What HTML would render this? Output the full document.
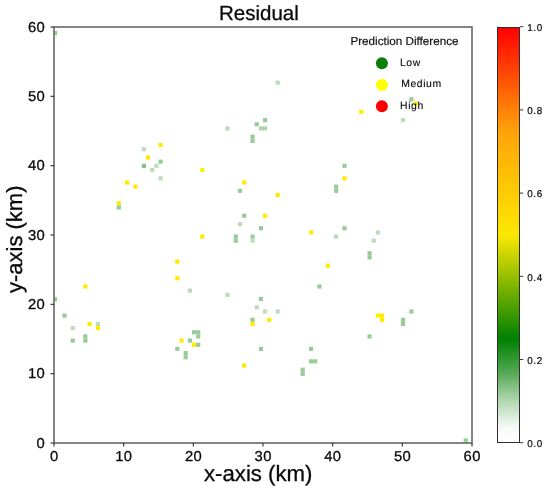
<!DOCTYPE html>
<html><head><meta charset="utf-8"><title>Residual</title>
<style>
html,body{margin:0;padding:0;background:#fff;}
body{width:550px;height:490px;overflow:hidden;}
svg{display:block;font-family:"Liberation Sans",Arial,sans-serif;}
text{fill:#0a0a0a;stroke:#0a0a0a;stroke-width:0.3px;text-rendering:geometricPrecision;}
</style></head><body>
<svg width="550" height="490" viewBox="0 0 550 490">
<defs>
<linearGradient id="cm" x1="0" y1="1" x2="0" y2="0">
<stop offset="0" stop-color="#ffffff"/>
<stop offset="0.035" stop-color="#f6fbf6"/>
<stop offset="0.1" stop-color="#b2d7b2"/>
<stop offset="0.17" stop-color="#52a752"/>
<stop offset="0.25" stop-color="#008000"/>
<stop offset="0.38" stop-color="#82b600"/>
<stop offset="0.5" stop-color="#fbe800"/>
<stop offset="0.75" stop-color="#ffa30a"/>
<stop offset="1" stop-color="#ff0000"/>
</linearGradient>
</defs>
<rect x="0" y="0" width="550" height="490" fill="#ffffff"/>
<g>
<rect x="275.54" y="80.58" width="4.18" height="4.16" fill="#bcdcbc"/>
<rect x="225.38" y="126.34" width="4.18" height="4.16" fill="#bcdcbc"/>
<rect x="263.00" y="118.02" width="4.18" height="4.16" fill="#98cb98"/>
<rect x="254.64" y="122.18" width="4.18" height="4.16" fill="#98cb98"/>
<rect x="258.82" y="126.34" width="4.18" height="4.16" fill="#aed5ae"/>
<rect x="263.00" y="126.34" width="4.18" height="4.16" fill="#aed5ae"/>
<rect x="250.46" y="134.66" width="4.18" height="4.16" fill="#98cb98"/>
<rect x="250.46" y="138.82" width="4.18" height="4.16" fill="#98cb98"/>
<rect x="359.14" y="109.70" width="4.18" height="4.16" fill="#ffea00"/>
<rect x="409.30" y="97.22" width="4.18" height="4.16" fill="#98cb98"/>
<rect x="413.48" y="101.38" width="4.18" height="4.16" fill="#ffea00"/>
<rect x="400.94" y="118.02" width="4.18" height="4.16" fill="#bcdcbc"/>
<rect x="158.50" y="142.98" width="4.18" height="4.16" fill="#ffea00"/>
<rect x="141.78" y="147.14" width="4.18" height="4.16" fill="#bcdcbc"/>
<rect x="145.96" y="155.46" width="4.18" height="4.16" fill="#ffea00"/>
<rect x="141.78" y="163.78" width="4.18" height="4.16" fill="#86c186"/>
<rect x="158.50" y="159.62" width="4.18" height="4.16" fill="#98cb98"/>
<rect x="154.32" y="163.78" width="4.18" height="4.16" fill="#bcdcbc"/>
<rect x="150.14" y="167.94" width="4.18" height="4.16" fill="#bcdcbc"/>
<rect x="158.50" y="176.26" width="4.18" height="4.16" fill="#bcdcbc"/>
<rect x="125.06" y="180.42" width="4.18" height="4.16" fill="#ffea00"/>
<rect x="133.42" y="184.58" width="4.18" height="4.16" fill="#ffea00"/>
<rect x="116.70" y="201.22" width="4.18" height="4.16" fill="#ffea00"/>
<rect x="116.70" y="205.38" width="4.18" height="4.16" fill="#98cb98"/>
<rect x="175.22" y="259.46" width="4.18" height="4.16" fill="#ffea00"/>
<rect x="200.30" y="167.94" width="4.18" height="4.16" fill="#ffea00"/>
<rect x="242.10" y="180.42" width="4.18" height="4.16" fill="#ffea00"/>
<rect x="237.92" y="188.74" width="4.18" height="4.16" fill="#98cb98"/>
<rect x="275.54" y="192.90" width="4.18" height="4.16" fill="#ffea00"/>
<rect x="242.10" y="213.70" width="4.18" height="4.16" fill="#98cb98"/>
<rect x="263.00" y="213.70" width="4.18" height="4.16" fill="#ffea00"/>
<rect x="237.92" y="222.02" width="4.18" height="4.16" fill="#bcdcbc"/>
<rect x="258.82" y="226.18" width="4.18" height="4.16" fill="#98cb98"/>
<rect x="200.30" y="234.50" width="4.18" height="4.16" fill="#ffea00"/>
<rect x="233.74" y="234.50" width="4.18" height="4.16" fill="#98cb98"/>
<rect x="233.74" y="238.66" width="4.18" height="4.16" fill="#98cb98"/>
<rect x="250.46" y="234.50" width="4.18" height="4.16" fill="#98cb98"/>
<rect x="250.46" y="238.66" width="4.18" height="4.16" fill="#bcdcbc"/>
<rect x="308.98" y="230.34" width="4.18" height="4.16" fill="#ffea00"/>
<rect x="325.70" y="263.62" width="4.18" height="4.16" fill="#ffea00"/>
<rect x="342.42" y="163.78" width="4.18" height="4.16" fill="#98cb98"/>
<rect x="342.42" y="176.26" width="4.18" height="4.16" fill="#ffea00"/>
<rect x="334.06" y="184.58" width="4.18" height="4.16" fill="#98cb98"/>
<rect x="334.06" y="188.74" width="4.18" height="4.16" fill="#98cb98"/>
<rect x="342.42" y="226.18" width="4.18" height="4.16" fill="#98cb98"/>
<rect x="334.06" y="234.50" width="4.18" height="4.16" fill="#bcdcbc"/>
<rect x="375.86" y="230.34" width="4.18" height="4.16" fill="#bcdcbc"/>
<rect x="371.68" y="238.66" width="4.18" height="4.16" fill="#bcdcbc"/>
<rect x="367.50" y="251.14" width="4.18" height="4.16" fill="#98cb98"/>
<rect x="367.50" y="255.30" width="4.18" height="4.16" fill="#98cb98"/>
<rect x="175.22" y="276.10" width="4.18" height="4.16" fill="#ffea00"/>
<rect x="83.26" y="284.42" width="4.18" height="4.16" fill="#ffea00"/>
<rect x="187.76" y="288.58" width="4.18" height="4.16" fill="#bcdcbc"/>
<rect x="62.36" y="313.54" width="4.18" height="4.16" fill="#98cb98"/>
<rect x="87.44" y="321.86" width="4.18" height="4.16" fill="#ffea00"/>
<rect x="95.80" y="321.86" width="4.18" height="4.16" fill="#bcdcbc"/>
<rect x="95.80" y="326.02" width="4.18" height="4.16" fill="#ffea00"/>
<rect x="70.72" y="326.02" width="4.18" height="4.16" fill="#bcdcbc"/>
<rect x="70.72" y="338.50" width="4.18" height="4.16" fill="#98cb98"/>
<rect x="83.26" y="334.34" width="4.18" height="4.16" fill="#98cb98"/>
<rect x="83.26" y="338.50" width="4.18" height="4.16" fill="#98cb98"/>
<rect x="179.40" y="338.50" width="4.18" height="4.16" fill="#ffea00"/>
<rect x="187.76" y="338.50" width="4.18" height="4.16" fill="#98cb98"/>
<rect x="175.22" y="346.82" width="4.18" height="4.16" fill="#98cb98"/>
<rect x="183.58" y="350.98" width="4.18" height="4.16" fill="#98cb98"/>
<rect x="183.58" y="355.14" width="4.18" height="4.16" fill="#98cb98"/>
<rect x="317.34" y="284.42" width="4.18" height="4.16" fill="#98cb98"/>
<rect x="225.38" y="292.74" width="4.18" height="4.16" fill="#bcdcbc"/>
<rect x="258.82" y="296.90" width="4.18" height="4.16" fill="#98cb98"/>
<rect x="254.64" y="305.22" width="4.18" height="4.16" fill="#bcdcbc"/>
<rect x="263.00" y="309.38" width="4.18" height="4.16" fill="#bcdcbc"/>
<rect x="275.54" y="309.38" width="4.18" height="4.16" fill="#bcdcbc"/>
<rect x="250.46" y="317.70" width="4.18" height="4.16" fill="#98cb98"/>
<rect x="250.46" y="321.86" width="4.18" height="4.16" fill="#ffea00"/>
<rect x="267.18" y="317.70" width="4.18" height="4.16" fill="#ffea00"/>
<rect x="191.94" y="330.18" width="4.18" height="4.16" fill="#98cb98"/>
<rect x="196.12" y="330.18" width="4.18" height="4.16" fill="#98cb98"/>
<rect x="196.12" y="334.34" width="4.18" height="4.16" fill="#98cb98"/>
<rect x="191.94" y="342.66" width="4.18" height="4.16" fill="#ffea00"/>
<rect x="196.12" y="342.66" width="4.18" height="4.16" fill="#98cb98"/>
<rect x="258.82" y="346.82" width="4.18" height="4.16" fill="#98cb98"/>
<rect x="242.10" y="363.46" width="4.18" height="4.16" fill="#ffea00"/>
<rect x="308.98" y="346.82" width="4.18" height="4.16" fill="#98cb98"/>
<rect x="308.98" y="359.30" width="4.18" height="4.16" fill="#98cb98"/>
<rect x="313.16" y="359.30" width="4.18" height="4.16" fill="#98cb98"/>
<rect x="300.62" y="367.62" width="4.18" height="4.16" fill="#98cb98"/>
<rect x="300.62" y="371.78" width="4.18" height="4.16" fill="#98cb98"/>
<rect x="409.30" y="309.38" width="4.18" height="4.16" fill="#98cb98"/>
<rect x="375.86" y="313.54" width="4.18" height="4.16" fill="#ffea00"/>
<rect x="380.04" y="313.54" width="4.18" height="4.16" fill="#ffea00"/>
<rect x="380.04" y="317.70" width="4.18" height="4.16" fill="#ffea00"/>
<rect x="400.94" y="317.70" width="4.18" height="4.16" fill="#98cb98"/>
<rect x="400.94" y="321.86" width="4.18" height="4.16" fill="#98cb98"/>
<rect x="367.50" y="334.34" width="4.18" height="4.16" fill="#98cb98"/>
<rect x="463.64" y="438.34" width="4.18" height="4.16" fill="#8fd68f"/>
<rect x="54.7" y="31" width="2.4" height="4.1" fill="#7fcf7f"/>
<rect x="54.7" y="297.2" width="2.4" height="4.1" fill="#8fc98f"/>
</g>
<rect x="54.0" y="27.0" width="418.0" height="416.0" fill="none" stroke="#5c5c5c" stroke-width="1.5"/>
<line x1="54.00" y1="443.0" x2="54.00" y2="446.4" stroke="#383838" stroke-width="1.15"/>
<line x1="54.0" y1="443.00" x2="50.4" y2="443.00" stroke="#383838" stroke-width="1.15"/>
<text transform="translate(54.15,460.80) scale(1,0.97)" text-anchor="middle" font-size="14.8" letter-spacing="0.3">0</text>
<text transform="translate(45.10,447.75) scale(1,0.97)" text-anchor="end" font-size="14.8" letter-spacing="0.3">0</text>
<line x1="123.67" y1="443.0" x2="123.67" y2="446.4" stroke="#383838" stroke-width="1.15"/>
<line x1="54.0" y1="373.67" x2="50.4" y2="373.67" stroke="#383838" stroke-width="1.15"/>
<text transform="translate(123.82,460.80) scale(1,0.97)" text-anchor="middle" font-size="14.8" letter-spacing="0.3">10</text>
<text transform="translate(45.10,378.42) scale(1,0.97)" text-anchor="end" font-size="14.8" letter-spacing="0.3">10</text>
<line x1="193.33" y1="443.0" x2="193.33" y2="446.4" stroke="#383838" stroke-width="1.15"/>
<line x1="54.0" y1="304.33" x2="50.4" y2="304.33" stroke="#383838" stroke-width="1.15"/>
<text transform="translate(193.48,460.80) scale(1,0.97)" text-anchor="middle" font-size="14.8" letter-spacing="0.3">20</text>
<text transform="translate(45.10,309.08) scale(1,0.97)" text-anchor="end" font-size="14.8" letter-spacing="0.3">20</text>
<line x1="263.00" y1="443.0" x2="263.00" y2="446.4" stroke="#383838" stroke-width="1.15"/>
<line x1="54.0" y1="235.00" x2="50.4" y2="235.00" stroke="#383838" stroke-width="1.15"/>
<text transform="translate(263.15,460.80) scale(1,0.97)" text-anchor="middle" font-size="14.8" letter-spacing="0.3">30</text>
<text transform="translate(45.10,239.75) scale(1,0.97)" text-anchor="end" font-size="14.8" letter-spacing="0.3">30</text>
<line x1="332.67" y1="443.0" x2="332.67" y2="446.4" stroke="#383838" stroke-width="1.15"/>
<line x1="54.0" y1="165.67" x2="50.4" y2="165.67" stroke="#383838" stroke-width="1.15"/>
<text transform="translate(332.82,460.80) scale(1,0.97)" text-anchor="middle" font-size="14.8" letter-spacing="0.3">40</text>
<text transform="translate(45.10,170.42) scale(1,0.97)" text-anchor="end" font-size="14.8" letter-spacing="0.3">40</text>
<line x1="402.33" y1="443.0" x2="402.33" y2="446.4" stroke="#383838" stroke-width="1.15"/>
<line x1="54.0" y1="96.33" x2="50.4" y2="96.33" stroke="#383838" stroke-width="1.15"/>
<text transform="translate(402.48,460.80) scale(1,0.97)" text-anchor="middle" font-size="14.8" letter-spacing="0.3">50</text>
<text transform="translate(45.10,101.08) scale(1,0.97)" text-anchor="end" font-size="14.8" letter-spacing="0.3">50</text>
<line x1="472.00" y1="443.0" x2="472.00" y2="446.4" stroke="#383838" stroke-width="1.15"/>
<line x1="54.0" y1="27.00" x2="50.4" y2="27.00" stroke="#383838" stroke-width="1.15"/>
<text transform="translate(472.15,460.80) scale(1,0.97)" text-anchor="middle" font-size="14.8" letter-spacing="0.3">60</text>
<text transform="translate(45.10,31.75) scale(1,0.97)" text-anchor="end" font-size="14.8" letter-spacing="0.3">60</text>
<text transform="translate(258.90,20.30)" text-anchor="middle" font-size="20.5">Residual</text>
<text transform="translate(258.20,481.30)" text-anchor="middle" font-size="22.2">x-axis (km)</text>
<text transform="translate(21.60,239.30) rotate(-90)" text-anchor="middle" font-size="22.0">y-axis (km)</text>
<g>
<text transform="translate(350.40,44.80)" font-size="11.68" style="stroke-width:0.15px">Prediction Difference</text>
<circle cx="381.9" cy="63.2" r="6" fill="#0a7d0a"/>
<circle cx="381.9" cy="85.0" r="6" fill="#ffff00"/>
<circle cx="381.9" cy="106.3" r="6" fill="#ff0000"/>
<text transform="translate(399.90,65.80)" font-size="10.4" letter-spacing="0.6" style="stroke-width:0.12px">Low</text>
<text transform="translate(401.20,87.40)" font-size="10.4" letter-spacing="0.6" style="stroke-width:0.12px">Medium</text>
<text transform="translate(400.10,109.20)" font-size="10.4" letter-spacing="0.6" style="stroke-width:0.12px">High</text>
</g>
<rect x="497.5" y="27.5" width="22" height="415" fill="url(#cm)" stroke="#2e2e2e" stroke-width="1"/>
<line x1="520" y1="442.70" x2="523.3" y2="442.70" stroke="#222" stroke-width="0.9"/>
<text transform="translate(527.30,446.90)" font-size="9.9" letter-spacing="0.55" style="stroke-width:0.2px">0.0</text>
<line x1="520" y1="359.50" x2="523.3" y2="359.50" stroke="#222" stroke-width="0.9"/>
<text transform="translate(527.30,363.70)" font-size="9.9" letter-spacing="0.55" style="stroke-width:0.2px">0.2</text>
<line x1="520" y1="276.30" x2="523.3" y2="276.30" stroke="#222" stroke-width="0.9"/>
<text transform="translate(527.30,280.50)" font-size="9.9" letter-spacing="0.55" style="stroke-width:0.2px">0.4</text>
<line x1="520" y1="193.10" x2="523.3" y2="193.10" stroke="#222" stroke-width="0.9"/>
<text transform="translate(527.30,197.30)" font-size="9.9" letter-spacing="0.55" style="stroke-width:0.2px">0.6</text>
<line x1="520" y1="109.90" x2="523.3" y2="109.90" stroke="#222" stroke-width="0.9"/>
<text transform="translate(527.30,114.10)" font-size="9.9" letter-spacing="0.55" style="stroke-width:0.2px">0.8</text>
<line x1="520" y1="26.70" x2="523.3" y2="26.70" stroke="#222" stroke-width="0.9"/>
<text transform="translate(527.30,30.90)" font-size="9.9" letter-spacing="0.55" style="stroke-width:0.2px">1.0</text>
</svg>
</body></html>
